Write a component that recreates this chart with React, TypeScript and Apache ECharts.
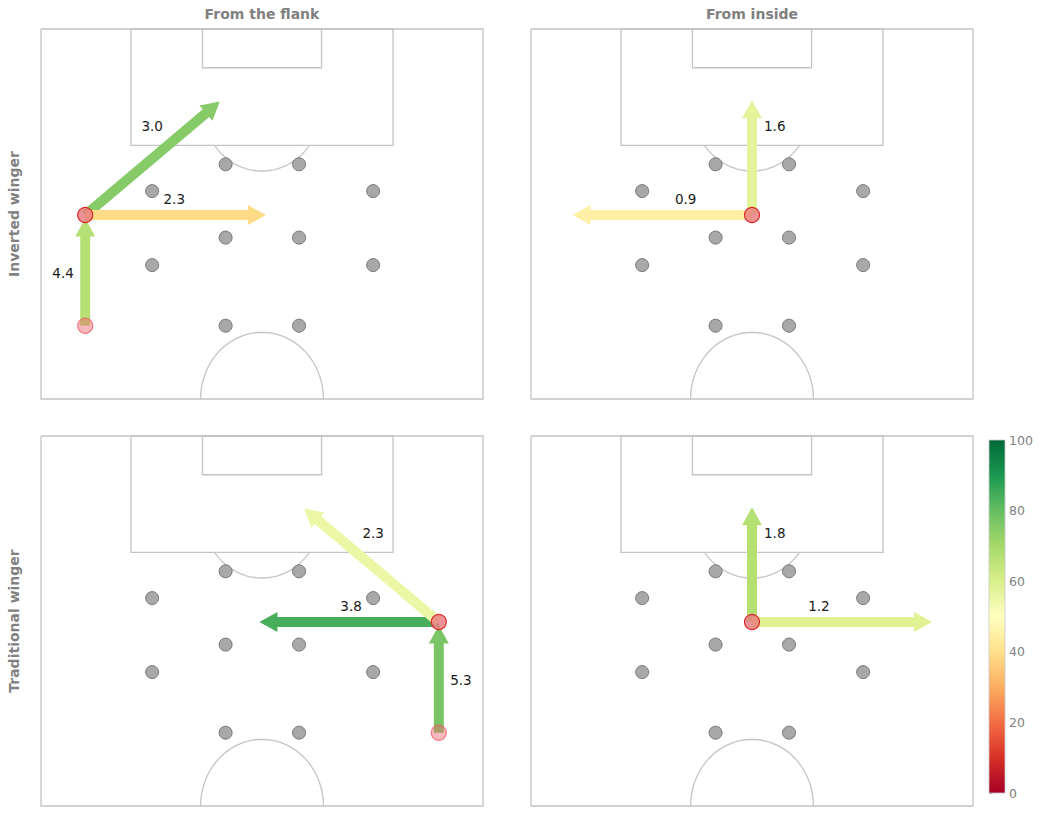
import { useEffect, useRef } from 'react';
import * as echarts from 'echarts';

const columnTitles = ['From the flank', 'From inside'];
const rowTitles = ['Inverted winger', 'Traditional winger'];

// defenders, metres: x across the pitch, y from the goal line
const defenderX = [28.4, 39.7, 17.1, 51.1, 28.4, 39.7, 17.1, 51.1, 28.4, 39.7];
const defenderY = [19.2, 19.2, 23.0, 23.0, 29.6, 29.6, 33.5, 33.5, 42.1, 42.1];

// arrows, panel 0 = top left, 1 = top right, 2 = bottom left, 3 = bottom right
const arrowPanel = [0, 0, 0, 1, 1, 2, 2, 2, 3, 3];
const arrowX0 = [6.8, 6.8, 6.8, 34, 34, 61.2, 61.2, 61.2, 34, 34];
const arrowY0 = [42.1, 26.4, 26.4, 26.4, 26.4, 42.1, 26.4, 26.4, 26.4, 26.4];
const arrowX1 = [6.8, 27.5, 34.6, 34, 6.4, 61.2, 33.6, 40.5, 34, 61.7];
const arrowY1 = [26.9, 10.3, 26.4, 10.1, 26.4, 26.9, 26.4, 10.3, 10.1, 26.4];
const arrowLabel = ['4.4', '3.0', '2.3', '1.6', '0.9', '5.3', '3.8', '2.3', '1.8', '1.2'];
const arrowShare = [67, 75, 39, 57, 45, 77, 84, 55, 67, 58];
const labelX = [3.4, 17.1, 20.5, 37.5, 23.8, 64.6, 47.7, 51.1, 37.5, 44.3];
const labelY = [34.6, 13.8, 24.1, 13.8, 24.1, 34.6, 24.1, 13.8, 13.8, 24.1];

// winger positions
const nodePanel = [0, 0, 1, 2, 2, 3];
const nodeX = [6.8, 6.8, 34, 61.2, 61.2, 34];
const nodeY = [42.1, 26.4, 26.4, 42.1, 26.4, 26.4];
const nodeIsStart = [true, false, false, true, false, false];

const rdYlGn = [
    '#a50026', '#d73027', '#f46d43', '#fdae61', '#fee08b', '#ffffbf',
    '#d9ef8b', '#a6d96a', '#66bd63', '#1a9850', '#006837',
];

const FONT = '"DejaVu Sans", sans-serif';
const PITCH_W = 68;
const PITCH_L = 52.5;
const LINE = '#c4c4c4';

const gridPos = [
    {left: 41, top: 29},
    {left: 531, top: 29},
    {left: 41, top: 436},
    {left: 531, top: 436},
];

const arc = (api: any, cx: number, cy: number, r: number, a0: number, a1: number) => {
    const pts: number[][] = [];
    const n = 60;
    for (let i = 0; i <= n; i++) {
        const t = ((a0 + ((a1 - a0) * i) / n) * Math.PI) / 180;
        pts.push(api.coord([cx + r * Math.cos(t), cy + r * Math.sin(t)]));
    }
    return pts;
};

const rectPts = (api: any, x0: number, y0: number, x1: number, y1: number) => [
    api.coord([x0, y0]),
    api.coord([x1, y0]),
    api.coord([x1, y1]),
    api.coord([x0, y1]),
    api.coord([x0, y0]),
];

const renderPitch = (_params: any, api: any) => {
    const style = {stroke: LINE, lineWidth: 1.3, fill: null};
    const shapes = [
        rectPts(api, 0, 0, PITCH_W, PITCH_L),
        rectPts(api, 13.84, 0, 54.16, 16.5),
        rectPts(api, 24.84, 0, 43.16, 5.5),
        arc(api, 34, 11, 9.15, 37, 143),
        arc(api, 34, PITCH_L, 9.45, 180, 360),
    ];
    return {
        type: 'group',
        children: shapes.map((points) => ({type: 'polyline', shape: {points}, style})),
    };
};

const renderArrow = (_params: any, api: any) => {
    const p0 = api.coord([api.value(0), api.value(1)]);
    const p1 = api.coord([api.value(2), api.value(3)]);
    const dx = p1[0] - p0[0];
    const dy = p1[1] - p0[1];
    const len = Math.hypot(dx, dy);
    const ux = dx / len;
    const uy = dy / len;
    const nx = -uy;
    const ny = ux;
    const hl = 18;
    const hw = 10;
    const sw = 5;
    const bx = p1[0] - ux * hl;
    const by = p1[1] - uy * hl;
    const points = [
        [p0[0] + nx * sw, p0[1] + ny * sw],
        [bx + nx * sw, by + ny * sw],
        [bx + nx * hw, by + ny * hw],
        [p1[0], p1[1]],
        [bx - nx * hw, by - ny * hw],
        [bx - nx * sw, by - ny * sw],
        [p0[0] - nx * sw, p0[1] - ny * sw],
    ];
    const lp = api.coord([api.value(5), api.value(6)]);
    return {
        type: 'group',
        children: [
            {type: 'polygon', shape: {points}, style: {fill: api.visual('color')}},
            {
                type: 'text',
                x: lp[0],
                y: lp[1],
                style: {
                    text: arrowLabel[api.value(7)],
                    fill: '#1a1a1a',
                    fontSize: 13.5,
                    fontFamily: FONT,
                    align: 'center',
                    verticalAlign: 'middle',
                },
            },
        ],
    };
};

const renderColorbar = (_params: any, api: any) => {
    const a = api.coord([0, 0]);
    const b = api.coord([1, 100]);
    const stops = rdYlGn.map((color, i) => ({offset: i / (rdYlGn.length - 1), color}));
    return {
        type: 'rect',
        shape: {x: a[0], y: b[1], width: b[0] - a[0], height: a[1] - b[1]},
        style: {fill: new echarts.graphic.LinearGradient(0, 1, 0, 0, stops), stroke: '#c8c8c8', lineWidth: 0.8},
    };
};

const buildOption = () => {
    const grid: any[] = gridPos.map((g) => ({...g, width: 442, height: 370}));
    grid.push({left: 989, top: 440, width: 16, height: 353});

    const xAxis: any[] = gridPos.map((_, i) => ({
        type: 'value', gridIndex: i, min: 0, max: PITCH_W, show: false,
    }));
    xAxis.push({type: 'value', gridIndex: 4, min: 0, max: 1, show: false});

    const yAxis: any[] = gridPos.map((_, i) => ({
        type: 'value', gridIndex: i, min: 0, max: PITCH_L, inverse: true, show: false,
    }));
    yAxis.push({
        type: 'value',
        gridIndex: 4,
        min: 0,
        max: 100,
        interval: 20,
        position: 'right',
        axisLine: {show: false},
        axisTick: {show: true, length: 3.5, lineStyle: {color: '#909090', width: 0.8}},
        axisLabel: {color: '#808080', fontSize: 12.5, fontFamily: FONT, margin: 4},
        splitLine: {show: false},
    });

    const series: any[] = [];
    const arrowSeriesIdx: number[] = [];
    gridPos.forEach((_, p) => {
        series.push({
            type: 'custom',
            xAxisIndex: p,
            yAxisIndex: p,
            silent: true,
            renderItem: renderPitch,
            data: [[0, 0]],
            z: 1,
        });
        series.push({
            type: 'scatter',
            xAxisIndex: p,
            yAxisIndex: p,
            symbolSize: 13,
            itemStyle: {color: '#a8a8a8', borderColor: '#787878', borderWidth: 1, opacity: 1},
            data: defenderX.map((x, i) => [x, defenderY[i]]),
            z: 2,
        });
        arrowSeriesIdx.push(series.length);
        series.push({
            type: 'custom',
            xAxisIndex: p,
            yAxisIndex: p,
            clip: false,
            renderItem: renderArrow,
            encode: {x: [0, 2], y: [1, 3]},
            data: arrowPanel
                .map((panel, i) => ({panel, i}))
                .filter((d) => d.panel === p)
                .map(({i}) => [arrowX0[i], arrowY0[i], arrowX1[i], arrowY1[i], arrowShare[i], labelX[i], labelY[i], i]),
            z: 3,
        });
        series.push({
            type: 'scatter',
            xAxisIndex: p,
            yAxisIndex: p,
            symbolSize: 15,
            data: nodePanel
                .map((panel, i) => ({panel, i}))
                .filter((d) => d.panel === p)
                .map(({i}) => ({
                    value: [nodeX[i], nodeY[i]],
                    itemStyle: nodeIsStart[i]
                        ? {color: 'rgba(240,100,110,0.45)', borderColor: 'rgba(240,90,100,0.75)', borderWidth: 1.2, opacity: 1}
                        : {color: 'rgba(232,120,125,0.8)', borderColor: '#dc2a2a', borderWidth: 1.2, opacity: 1},
                })),
            z: 4,
        });
    });
    series.push({
        type: 'custom',
        xAxisIndex: 4,
        yAxisIndex: 4,
        silent: true,
        renderItem: renderColorbar,
        data: [[0, 0]],
    });

    const graphic: any[] = [];
    columnTitles.forEach((t, i) => {
        graphic.push({
            type: 'text',
            x: gridPos[i].left + 221,
            y: 14,
            style: {
                text: t, fill: '#808080', font: `bold 14px ${FONT}`,
                align: 'center', verticalAlign: 'middle', textAlign: 'center', textVerticalAlign: 'middle',
            },
        });
    });
    rowTitles.forEach((t, i) => {
        graphic.push({
            type: 'text',
            x: 14,
            y: gridPos[i * 2].top + 185,
            rotation: Math.PI / 2,
            style: {
                text: t, fill: '#808080', font: `bold 14px ${FONT}`,
                align: 'center', verticalAlign: 'middle', textAlign: 'center', textVerticalAlign: 'middle',
            },
        });
    });

    return {
        animation: false,
        backgroundColor: '#ffffff',
        textStyle: {fontFamily: FONT},
        grid,
        xAxis,
        yAxis,
        visualMap: {
            type: 'continuous',
            show: false,
            min: 0,
            max: 100,
            dimension: 4,
            seriesIndex: arrowSeriesIdx,
            inRange: {color: rdYlGn},
        },
        graphic,
        series,
    };
};

const App = () => {
    const chartRef = useRef<HTMLDivElement>(null);

    useEffect(() => {
        const myChart = echarts.init(chartRef.current!, null, {renderer: 'svg'});
        myChart.setOption(buildOption() as any);
        return () => {
            myChart.dispose();
        };
    }, []);

    return (
        <div
            ref={chartRef}
            style={{position: 'fixed', left: 0, top: 0, width: '1042px', height: '817px', background: '#fff'}}
        />
    );
};

export default App;
